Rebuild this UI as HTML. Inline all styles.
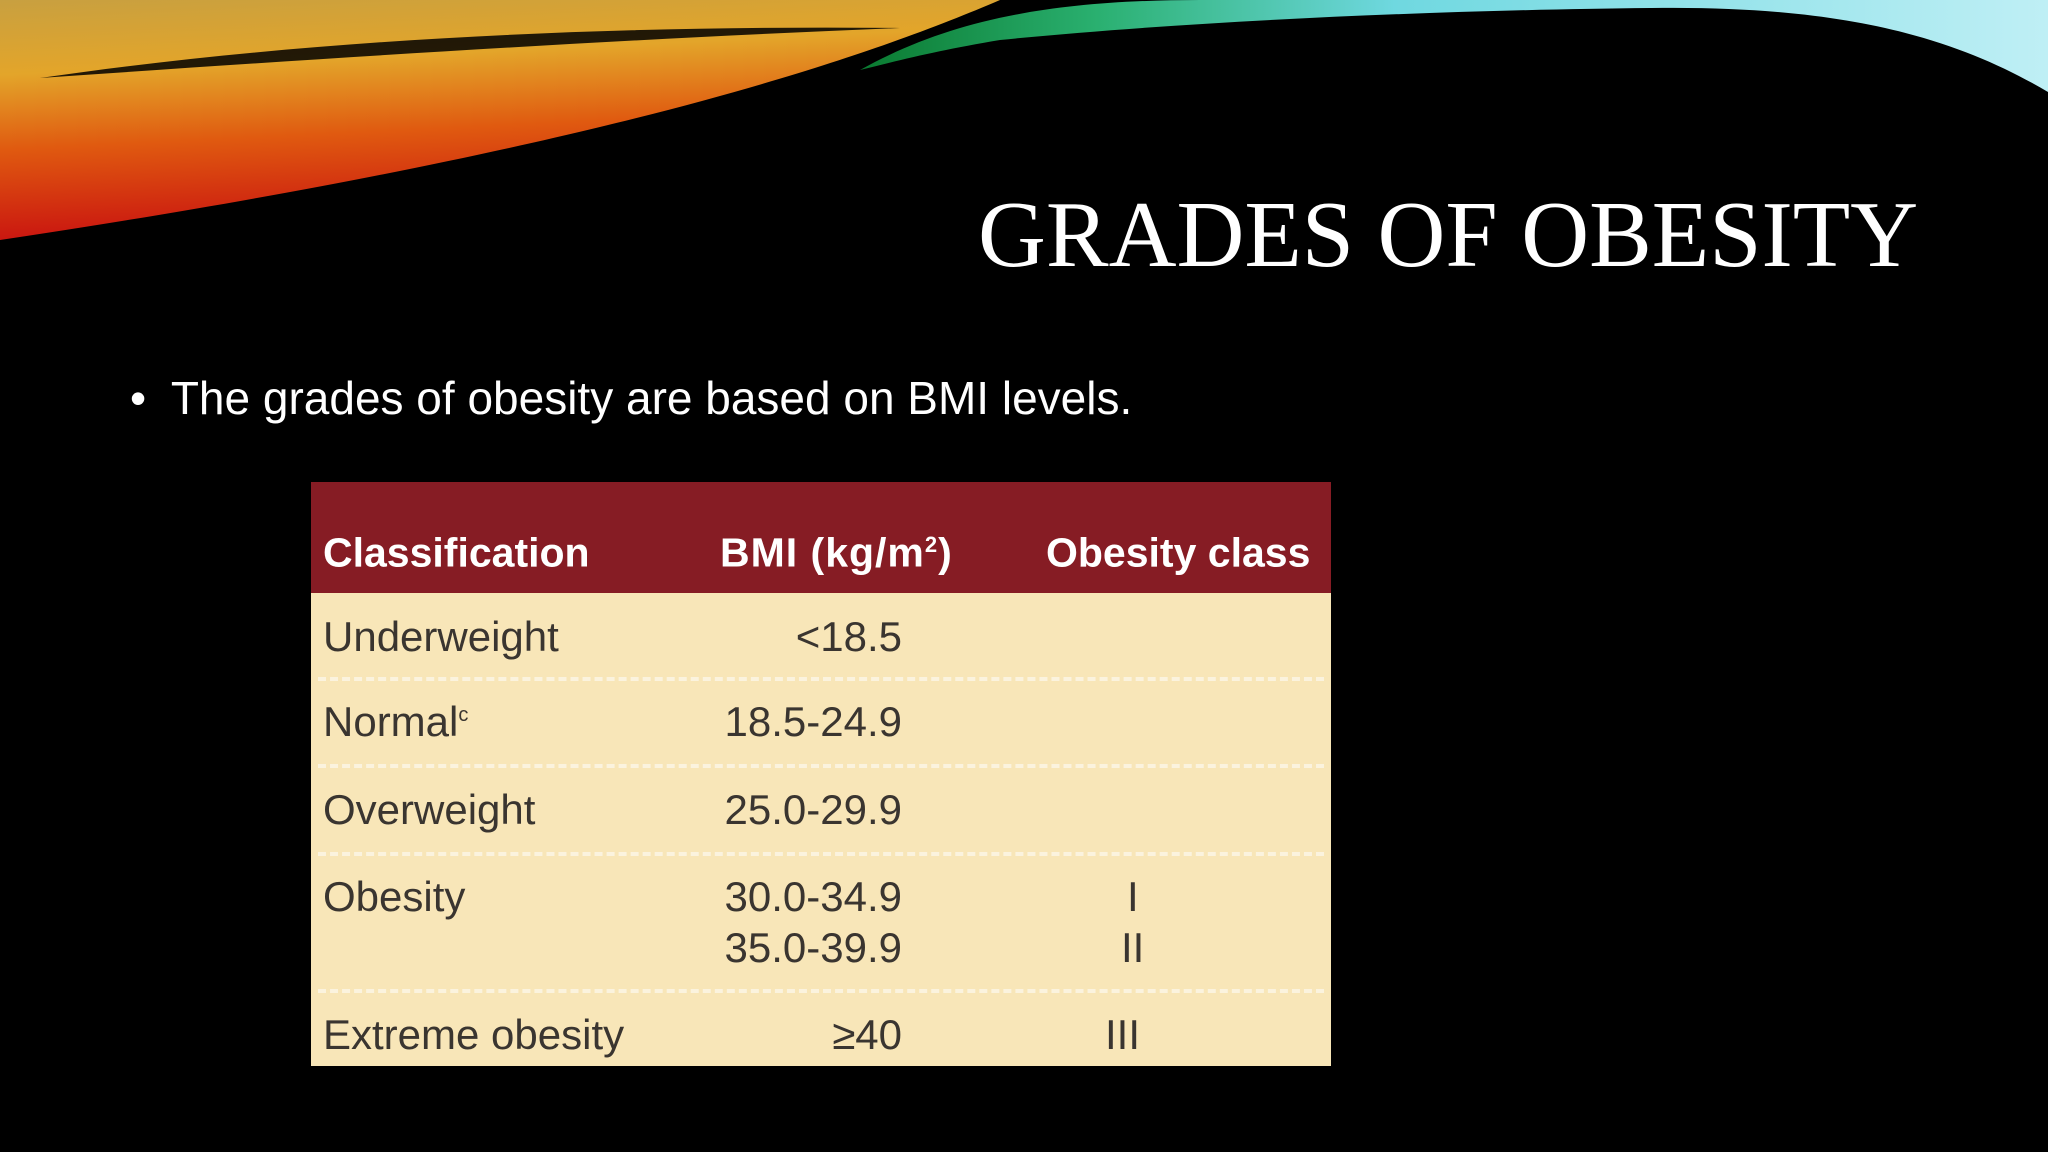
<!DOCTYPE html>
<html><head><meta charset="utf-8"><style>
html,body{margin:0;padding:0;background:#000;}
#slide{position:relative;width:2048px;height:1152px;background:#000;overflow:hidden;font-family:"Liberation Sans",sans-serif;}
.t{position:absolute;white-space:nowrap;}
.cell{position:absolute;font-family:"Liberation Sans Narrow","Liberation Sans",sans-serif;font-size:42px;color:#3a3530;line-height:1;transform:translateY(-50%);}
.hd{position:absolute;font-family:"Liberation Sans Narrow","Liberation Sans",sans-serif;font-weight:bold;font-size:41px;color:#fff;line-height:1;transform:translateY(-50%);}
.dash{position:absolute;left:318px;width:1006px;height:0;border-top:4px dashed #fbf3de;}
</style></head><body>
<div id="slide">
<svg width="2048" height="260" style="position:absolute;left:0;top:0">
<defs>
<linearGradient id="warm" x1="0" y1="0" x2="0.2" y2="1">
<stop offset="0" stop-color="#c8a040"/><stop offset="0.3" stop-color="#e3a52a"/><stop offset="0.6" stop-color="#e05a10"/><stop offset="1" stop-color="#c81010"/></linearGradient>
<linearGradient id="cool" x1="0" y1="0" x2="1" y2="0">
<stop offset="0" stop-color="#0a7a30"/><stop offset="0.2" stop-color="#2ab070"/><stop offset="0.45" stop-color="#6fd8e0"/><stop offset="1" stop-color="#bfeff5"/></linearGradient>
</defs>
<path d="M0,0 L1000,0 C860,60 600,150 0,240 Z" fill="url(#warm)"/>
<path d="M40,78 C300,40 600,25 900,28 C600,40 300,60 40,78 Z" fill="#000" opacity="0.85"/>
<path d="M860,70 C950,20 1050,0 1200,0 L2048,0 L2048,92 C1960,40 1850,5 1650,8 C1450,10 1200,20 1000,40 C940,50 900,60 860,70 Z" fill="url(#cool)"/>
</svg>
<div class="t" style="left:978px;top:188px;font-family:'Liberation Serif',serif;font-size:94px;color:#fff;line-height:1;">GRADES OF OBESITY</div>
<div class="t" style="left:130px;top:375px;font-size:46px;color:#fff;line-height:1;">•&nbsp; The grades of obesity are based on BMI levels.</div>
<div style="position:absolute;left:311px;top:482px;width:1020px;height:584px;background:#f8e6b8;">
</div>
<div style="position:absolute;left:311px;top:482px;width:1020px;height:111px;background:#861c24;"></div>
<div class="hd" style="left:323px;top:553px;">Classification</div>
<div class="hd" style="left:720px;top:553px;letter-spacing:1px;">BMI (kg/m<sup style="font-size:22px">2</sup>)</div>
<div class="hd" style="left:1046px;top:553px;">Obesity class</div>
<div class="dash" style="top:677px"></div>
<div class="dash" style="top:764px"></div>
<div class="dash" style="top:852px"></div>
<div class="dash" style="top:989px"></div>
<div class="cell" style="left:323px;top:637px">Underweight</div>
<div class="cell" style="right:1146px;top:637px">&lt;18.5</div>
<div class="cell" style="left:323px;top:722px">Normal<sup style="font-size:20px">c</sup></div>
<div class="cell" style="right:1146px;top:722px">18.5-24.9</div>
<div class="cell" style="left:323px;top:810px">Overweight</div>
<div class="cell" style="right:1146px;top:810px">25.0-29.9</div>
<div class="cell" style="left:323px;top:897px">Obesity</div>
<div class="cell" style="right:1146px;top:897px">30.0-34.9</div>
<div class="cell" style="left:1127px;top:897px">I</div>
<div class="cell" style="right:1146px;top:948px">35.0-39.9</div>
<div class="cell" style="left:1121px;top:948px">II</div>
<div class="cell" style="left:323px;top:1035px">Extreme obesity</div>
<div class="cell" style="right:1146px;top:1035px">≥40</div>
<div class="cell" style="left:1105px;top:1035px">III</div>
</div>
</body></html>
